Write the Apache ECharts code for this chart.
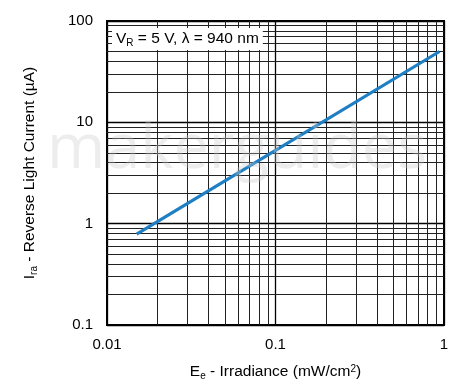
<!DOCTYPE html>
<html><head><meta charset="utf-8">
<script src="https://cdn.jsdelivr.net/npm/echarts@6/dist/echarts.min.js"></script>
<style>html,body{margin:0;padding:0;background:#fff}#c{width:474px;height:390px}</style>
</head><body><div id="c"></div>
<script>
const irradiance = [0.015, 0.1, 0.94];
const current = [0.79, 5.3, 50];
const xMinor = [0.02,0.03,0.04,0.05,0.06,0.07,0.08,0.09,0.2,0.3,0.4,0.5,0.6,0.7,0.8,0.9];
const yMinor = [0.2,0.3,0.4,0.5,0.6,0.7,0.8,0.9,2,3,4,5,6,7,8,9,20,30,40,50,60,70,80,90];
const xTickLabels = {0.01:'0.01',0.1:'0.1',1:'1'};
const yTickLabels = {0.1:'0.1',1:'1',10:'10',100:'100'};

const chart = echarts.init(document.getElementById('c'), null, {renderer:'canvas'});
const font = 'Liberation Sans, Arial, sans-serif';
const minorLines = xMinor.map(v => ({xAxis: v})).concat(yMinor.map(v => ({yAxis: v})));
chart.setOption({
  animation:false,
  grid:{left:107, top:21, width:337, height:304, show:true, borderColor:'#000', borderWidth:2, backgroundColor:'transparent'},
  xAxis:{type:'log', logBase:10, min:0.01, max:1,
    axisLine:{show:false}, axisTick:{show:false},
    axisLabel:{fontFamily:font, fontSize:15, color:'#000', margin:12, formatter:v=>xTickLabels[+v.toPrecision(3)]||''},
    splitLine:{show:true, lineStyle:{color:'#000', width:1.3}},
    name:'{t|E}{sub|e}{t| - Irradiance (mW/cm}{sup|2}{t|)}', nameLocation:'middle', nameGap:38,
    nameTextStyle:{rich:{t:{fontFamily:font, fontSize:15.5, color:'#000'}, sub:{fontFamily:font, fontSize:10, color:'#000', padding:[8,0,0,0]}, sup:{fontFamily:font, fontSize:10, color:'#000', padding:[0,0,6,0]}}}
  },
  yAxis:{type:'log', logBase:10, min:0.1, max:100,
    axisLine:{show:false}, axisTick:{show:false},
    axisLabel:{fontFamily:font, fontSize:15, color:'#000', margin:14, formatter:v=>yTickLabels[+v.toPrecision(3)]||''},
    splitLine:{show:true, lineStyle:{color:'#000', width:1.3}},
    name:'{t|I}{sub|ra}{t| - Reverse Light Current (µA)}', nameLocation:'middle', nameGap:68, nameRotate:90,
    nameTextStyle:{rich:{t:{fontFamily:font, fontSize:15.5, color:'#000'}, sub:{fontFamily:font, fontSize:10, color:'#000', padding:[8,0,0,0]}}}
  },
  series:[
    {type:'line', data:[], silent:true,
     markLine:{silent:true, symbol:['none','none'], label:{show:false}, animation:false,
       lineStyle:{color:'#222', width:1, type:'solid'}, data:minorLines}},
    {type:'line', data:irradiance.map((x,i)=>[x,current[i]]), showSymbol:false, symbol:'none',
     lineStyle:{color:'#1f7fc4', width:3.2}, z:5}
  ],
  graphic:[
    {type:'text', left:112, top:28, z:10,
     style:{text:'{t|V}{sub|R}{t| = 5 V, λ = 940 nm}', backgroundColor:'#fff', padding:[2,4,2,4],
       rich:{t:{fontFamily:font, fontSize:15.5, fill:'#000'}, sub:{fontFamily:font, fontSize:10, fill:'#000', padding:[8,0,0,0]}}}},
    {type:'text', left:47, top:119, z:20, silent:true,
     style:{text:'makerguides', fontFamily:'Open Sans, sans-serif', fontSize:63, fontWeight:400, fill:'rgba(200,200,200,0.33)'}}
  ]
});
</script></body></html>
